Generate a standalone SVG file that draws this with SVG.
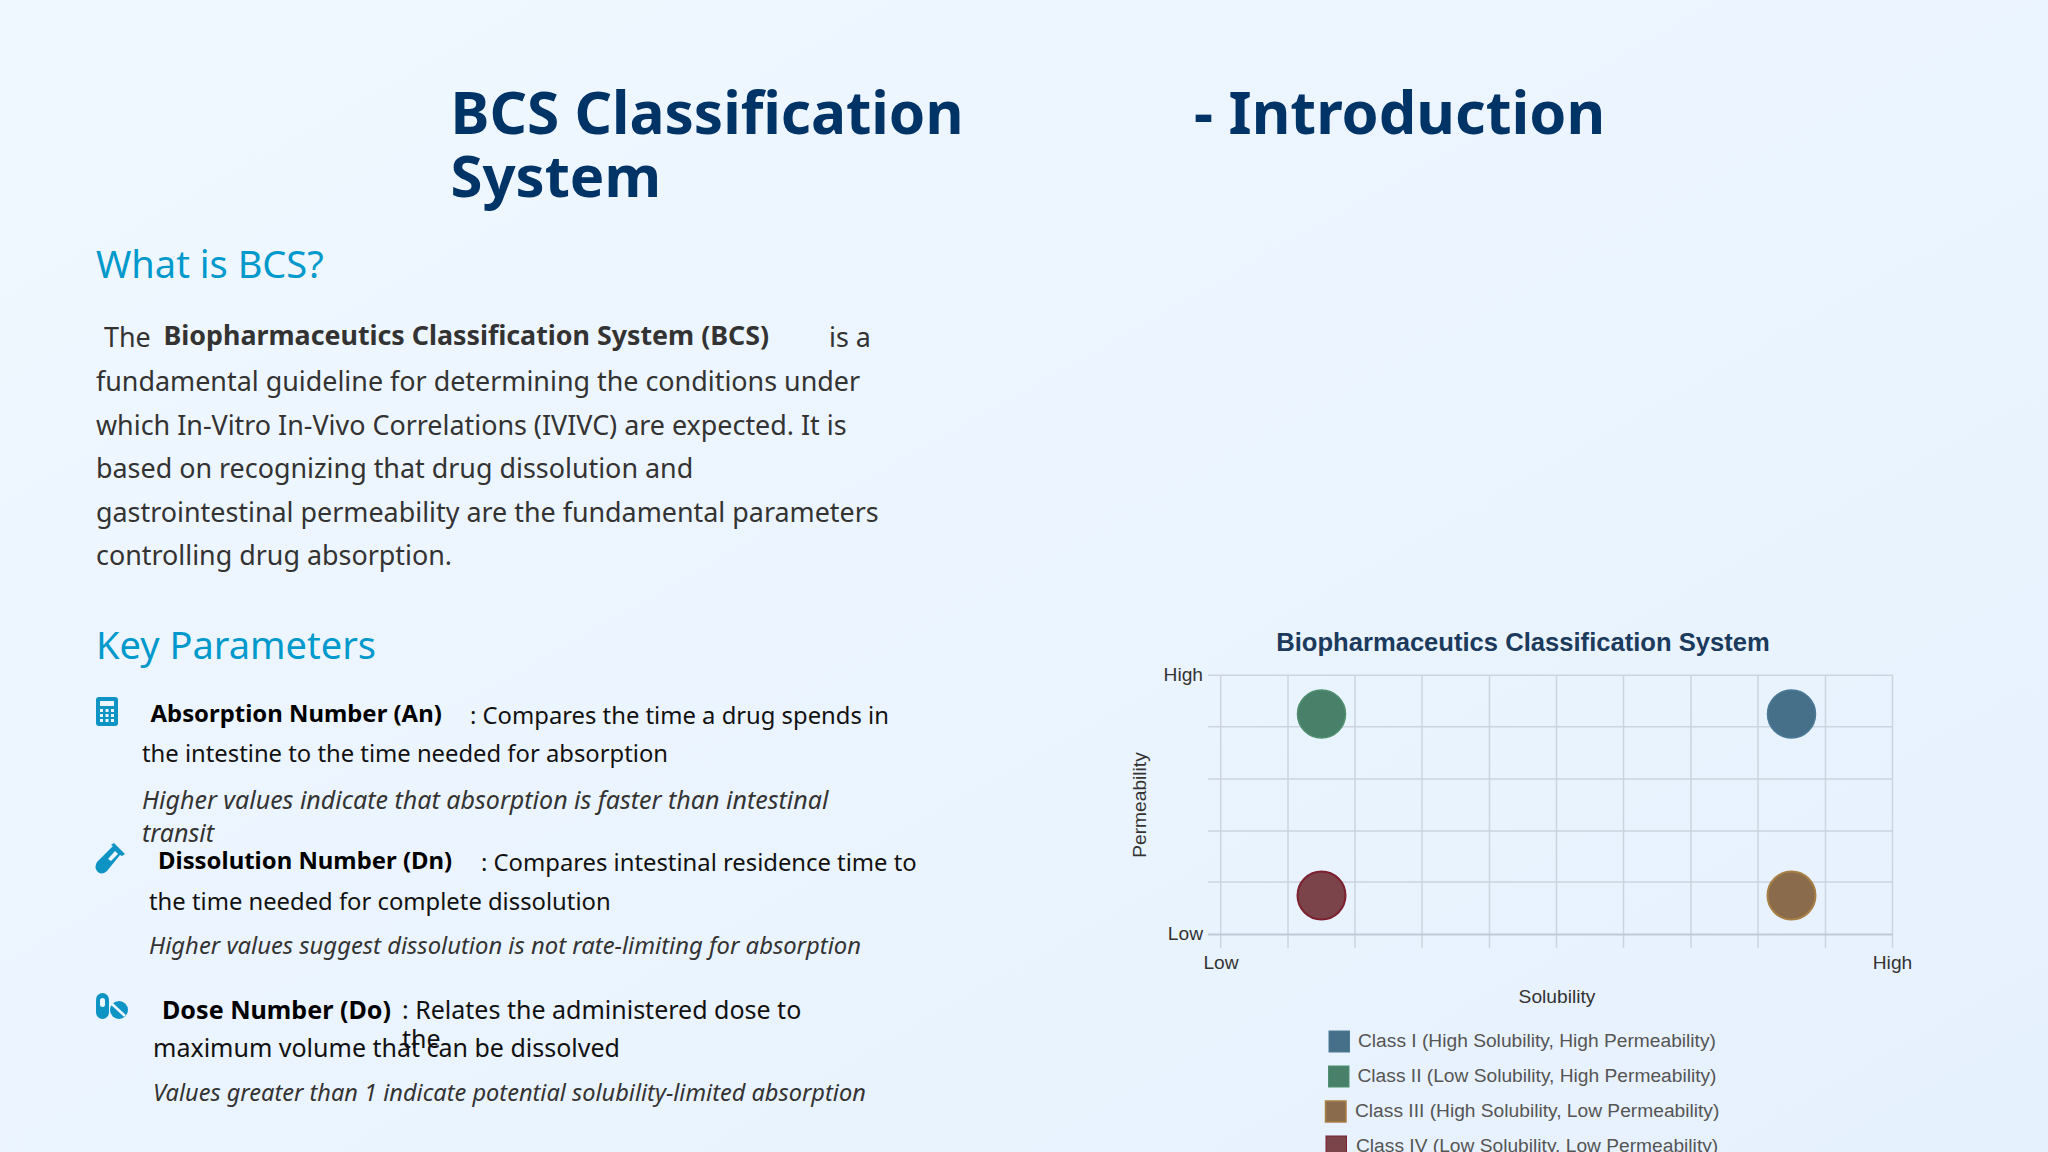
<svg xmlns="http://www.w3.org/2000/svg" width="2048" height="1152" viewBox="0 0 2048 1152">
<style>
text{font-family:"Noto Sans","Liberation Sans",sans-serif}
.t{font-size:58.500px;font-weight:700;fill:#003366}
.h{font-size:38px;fill:#0099cc}
.b{font-size:26.880px;fill:#333}
.bb{font-size:26.800px;font-weight:700;fill:#333}
.p{font-size:23.800px;fill:#111}
.pb{font-size:23.900px;font-weight:700;fill:#000}
.p2{font-size:25px;fill:#111}
.pb2{font-size:25px;font-weight:700;fill:#000}
.i{font-size:23.800px;font-style:italic;fill:#333}
.c{font-family:"Liberation Sans",Arial,sans-serif;font-size:19.200px;fill:#555}
.cd{font-family:"Liberation Sans",Arial,sans-serif;font-size:19.200px;fill:#333}
.g{stroke:#ccd4e0;stroke-width:1.500;fill:none}
.ic{fill:#0d94c4}
</style>
<defs><linearGradient id="bg" x1="0" y1="0" x2="1" y2="1"><stop offset="0" stop-color="#f0f8ff"/><stop offset="1" stop-color="#e6f1fe"/></linearGradient></defs>
<rect width="2048" height="1152" fill="url(#bg)"/>
<g id="title">
<text class="t" x="450.500" y="134">BCS Classification</text>
<text class="t" x="450.500" y="197" style="font-size:58px">System</text>
<text class="t" x="1194" y="134" style="font-size:59.500px">- Introduction</text>
</g>
<g id="intro">
<text class="h" x="96" y="278">What is BCS?</text>
<text class="b" x="104" y="347">The</text>
<text class="bb" x="163.500" y="345">Biopharmaceutics Classification System (BCS)</text>
<text class="b" x="829" y="347">is a</text>
<text class="b" x="96" y="390.500">fundamental guideline for determining the conditions under</text>
<text class="b" x="96" y="435">which In-Vitro In-Vivo Correlations (IVIVC) are expected. It is</text>
<text class="b" x="96" y="478">based on recognizing that drug dissolution and</text>
<text class="b" x="96" y="521.500">gastrointestinal permeability are the fundamental parameters</text>
<text class="b" x="96" y="565">controlling drug absorption.</text>
</g>
<g id="params">
<text class="h" x="96" y="659">Key Parameters</text>
<g id="an">
<rect class="ic" x="96" y="697" width="22" height="29" rx="3"/>
<g fill="#eef6ff"><rect x="100" y="701" width="14" height="5"/><rect x="100" y="709" width="3" height="3"/><rect x="105.500" y="709" width="3" height="3"/><rect x="111" y="709" width="3" height="3"/><rect x="100" y="714" width="3" height="3"/><rect x="105.500" y="714" width="3" height="3"/><rect x="111" y="714" width="3" height="3"/><rect x="100" y="719" width="3" height="3"/><rect x="105.500" y="719" width="3" height="3"/><rect x="111" y="719" width="3" height="3"/></g>
<text class="pb" x="150.500" y="722">Absorption Number (An)</text>
<text class="p" x="470" y="724">: Compares the time a drug spends in</text>
<text class="p" x="142" y="761.500">the intestine to the time needed for absorption</text>
<text class="i" x="142" y="809" style="font-size:25px">Higher values indicate that absorption is faster than intestinal</text>
<text class="i" x="142" y="842" style="font-size:25px">transit</text>
</g>
<g id="dn">
<path class="ic" d="M97 862 L113 846 L111 845 L114 843 L125 854 L122 856 L120 855 L107 871 Q101 876 97 871 Q94 867 97 862Z"/>
<path d="M108 859 L115 851 L118 854 L111 861Z" fill="#eef6ff"/>
<text class="pb" x="158" y="869">Dissolution Number (Dn)</text>
<text class="p" x="481" y="871">: Compares intestinal residence time to</text>
<text class="p" x="149" y="909.500">the time needed for complete dissolution</text>
<text class="i" x="149" y="954">Higher values suggest dissolution is not rate-limiting for absorption</text>
</g>
<g id="do">
<rect class="ic" x="96" y="993" width="13" height="26" rx="6.500"/>
<rect x="100" y="998" width="5" height="9" rx="2.500" fill="#eef6ff"/>
<circle class="ic" cx="119" cy="1010" r="9"/>
<path d="M112 1004 L125 1016" stroke="#eef6ff" stroke-width="2.500"/>
<text class="pb2" x="162" y="1019" style="font-size:25.100px">Dose Number (Do)</text>
<text class="p2" x="402" y="1019">: Relates the administered dose to</text>
<text class="p2" x="402" y="1048">the</text>
<text class="p2" x="153" y="1057">maximum volume that can be dissolved</text>
<text class="i" x="153" y="1101" style="font-size:23.570px">Values greater than 1 indicate potential solubility-limited absorption</text>
</g>
</g>
<g id="chart">
<text x="1523" y="651" text-anchor="middle" style="font-family:'Liberation Sans',Arial,sans-serif;font-size:25.600px;font-weight:700;fill:#1b3a5c">Biopharmaceutics Classification System</text>
<g id="grid">
<path class="g" d="M1220.700 675V948M1288 675V948M1355 675V948M1422 675V948M1489.500 675V948M1556.500 675V948M1623.500 675V948M1691 675V948M1758 675V948M1825.500 675V948M1892.500 675V948"/>
<path class="g" d="M1208 675.300H1892.500M1208 726.700H1892.500M1208 779H1892.500M1208 831H1892.500M1208 882H1892.500"/>
<path d="M1208 934.400H1892.500" stroke="#c0c9d5" stroke-width="2" fill="none"/>
</g>
<text class="cd" x="1203" y="681" text-anchor="end">High</text>
<text class="cd" x="1203" y="940" text-anchor="end">Low</text>
<text class="cd" x="1221" y="969" text-anchor="middle">Low</text>
<text class="cd" x="1892.500" y="969" text-anchor="middle">High</text>
<text class="cd" x="1557" y="1003" text-anchor="middle">Solubility</text>
<text class="cd" transform="translate(1146 805) rotate(-90)" text-anchor="middle">Permeability</text>
<g id="class-ii-point"><circle cx="1321.500" cy="714" r="24" fill="#48806a" stroke="#4f9070" stroke-width="1.500"/></g>
<g id="class-i-point"><circle cx="1791.500" cy="714" r="24" fill="#466f8a" stroke="#4a7a96" stroke-width="1.500"/></g>
<g id="class-iv-point"><circle cx="1321.500" cy="895.500" r="24" fill="#7a444a" stroke="#7d2030" stroke-width="2"/></g>
<g id="class-iii-point"><circle cx="1791.500" cy="895.500" r="24" fill="#8a6c4c" stroke="#a87f45" stroke-width="2"/></g>
<g id="legend">
<rect x="1329" y="1031" width="20.500" height="21" fill="#466f8a" stroke="#4a7a96"/>
<text class="c" x="1358" y="1047">Class I (High Solubility, High Permeability)</text>
<rect x="1328.500" y="1066" width="20.500" height="21" fill="#48806a" stroke="#4f9070"/>
<text class="c" x="1357.500" y="1082">Class II (Low Solubility, High Permeability)</text>
<rect x="1325.500" y="1101" width="20.500" height="21" fill="#8a6c4c" stroke="#a87f45" stroke-width="1.500"/>
<text class="c" x="1355" y="1117">Class III (High Solubility, Low Permeability)</text>
<rect x="1326" y="1136" width="20.500" height="21" fill="#7a444a" stroke="#7d2030"/>
<text class="c" x="1356" y="1152">Class IV (Low Solubility, Low Permeability)</text>
</g>
</g>
</svg>
